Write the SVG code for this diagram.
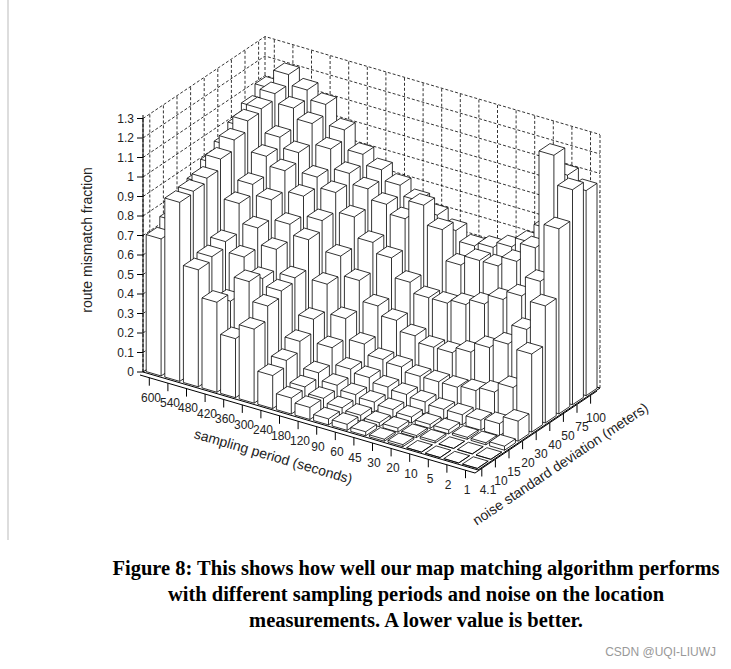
<svg xmlns="http://www.w3.org/2000/svg" width="731" height="669" viewBox="0 0 731 669">
<style>
.g{fill:none;stroke:#000;stroke-width:0.8;stroke-dasharray:3,2}
.ax{fill:none;stroke:#000;stroke-width:1}
.bars path{fill:#fff;stroke:#000;stroke-width:0.8;stroke-linejoin:round}
.t{font-family:"Liberation Sans",Arial,sans-serif;font-size:12px;fill:#222}
.lab{font-family:"Liberation Sans",Arial,sans-serif;font-size:14px;fill:#222}
.cap{font-family:"Liberation Serif","Times New Roman",serif;font-size:20.5px;font-weight:bold;fill:#000;text-anchor:middle}
</style>
<rect width="731" height="669" fill="#fff"/>
<line x1="8" y1="0" x2="8" y2="540" stroke="#bbb" stroke-width="1"/>
<g id="grid">
<path class="g" d="M143,352.5L265,270.5L600,368.5M143,333L265,251L600,349M143,313.5L265,231.5L600,329.5M143,294L265,212L600,310M143,274.5L265,192.5L600,290.5M143,255L265,173L600,271M143,235.5L265,153.5L600,251.5M143,216L265,134L600,232M143,196.5L265,114.5L600,212.5M143,177L265,95L600,193M143,157.5L265,75.5L600,173.5M143,138L265,56L600,154M143,118.5L265,36.5L600,134.5"/>
<path class="g" d="M274.3,292.7v-253.5M292.9,298.2v-253.5M311.5,303.6v-253.5M330.1,309v-253.5M348.7,314.5v-253.5M367.3,319.9v-253.5M385.9,325.4v-253.5M404.5,330.8v-253.5M423.1,336.2v-253.5M441.7,341.7v-253.5M460.3,347.1v-253.5M478.9,352.6v-253.5M497.5,358v-253.5M516.1,363.4v-253.5M534.7,368.9v-253.5M553.3,374.3v-253.5M571.9,379.8v-253.5M590.5,385.2v-253.5M149.8,367.5v-253.5M163.4,358.4v-253.5M177,349.3v-253.5M190.6,340.2v-253.5M204.2,331.1v-253.5M217.8,322v-253.5M231.4,312.9v-253.5M245,303.8v-253.5M258.6,294.7v-253.5M265,290v-253.5M600,388v-253.5M143,372v-253.5"/>
<path class="ax" d="M143,372L265,290L600,388"/>
</g>
<g id="axes">
<path class="ax" d="M143,372L478,470L600,388M140,375L475,473L597,391M143,372V115"/>
<path class="ax" d="M137,372h6M137,352.5h6M137,333h6M137,313.5h6M137,294h6M137,274.5h6M137,255h6M137,235.5h6M137,216h6M137,196.5h6M137,177h6M137,157.5h6M137,138h6M137,118.5h6"/>
<path class="ax" d="M149.3,377.7v8M167.9,383.2v8M186.5,388.6v8M205.1,394v8M223.7,399.5v8M242.3,404.9v8M260.9,410.3v8M279.5,415.8v8M298.1,421.2v8M316.7,426.7v8M335.3,432.1v8M353.9,437.5v8M372.5,443v8M391.1,448.4v8M409.7,453.9v8M428.3,459.3v8M446.9,464.7v8M465.5,470.2v8M481.8,468.5v8M495.4,459.4v8M509,450.3v8M522.6,441.2v8M536.2,432.1v8M549.8,423v8M563.4,413.9v8M577,404.8v8M590.6,395.7v8"/>
<g class="t" text-anchor="end">
<text x="134" y="376">0</text><text x="134" y="356.5">0.1</text><text x="134" y="337">0.2</text><text x="134" y="317.5">0.3</text><text x="134" y="298">0.4</text><text x="134" y="278.5">0.5</text><text x="134" y="259">0.6</text><text x="134" y="239.5">0.7</text><text x="134" y="220">0.8</text><text x="134" y="200.5">0.9</text><text x="134" y="181">1</text><text x="134" y="161.5">1.1</text><text x="134" y="142">1.2</text><text x="134" y="122.5">1.3</text>
</g>
<g class="t" text-anchor="middle">
<text x="151" y="402">600</text><text x="170" y="407">540</text><text x="188" y="412">480</text><text x="207" y="418">420</text><text x="225" y="423">360</text><text x="244" y="429">300</text><text x="263" y="434">240</text><text x="281" y="440">180</text><text x="300" y="445">120</text><text x="318" y="451">90</text><text x="337" y="456">60</text><text x="355" y="462">45</text><text x="374" y="467">30</text><text x="393" y="472">20</text><text x="411" y="478">10</text><text x="430" y="483">5</text><text x="448" y="489">2</text><text x="467" y="494">1</text>
<text x="488" y="494">4.1</text><text x="501" y="485">10</text><text x="514" y="476">15</text><text x="528" y="467">20</text><text x="541" y="458">30</text><text x="555" y="449">40</text><text x="568" y="440">50</text><text x="582" y="431">75</text><text x="596" y="422">100</text>
</g>
<text class="lab" transform="translate(92,240) rotate(-90)" text-anchor="middle">route mismatch fraction</text>
<text class="lab" transform="translate(272,461) rotate(16.3)" text-anchor="middle">sampling period (seconds)</text>
<text class="lab" transform="translate(563,468) rotate(-33.8)" text-anchor="middle">noise standard deviation (meters)</text>
</g>
<g id="bars" class="bars">
<g transform="translate(255,298.8)">
<path d="M0,0l14.9,4.35 10.9,-7.3v-215l-14.9,-4.35 -10.9,7.3zm0,-215l14.9,4.35 10.9,-7.3m-10.9,7.3v215"/>
<path d="M18.6,5.44l14.9,4.35 10.9,-7.3v-234l-14.9,-4.35 -10.9,7.3zm0,-234l14.9,4.35 10.9,-7.3m-10.9,7.3v234"/>
<path d="M37.2,10.88l14.9,4.35 10.9,-7.3v-224l-14.9,-4.35 -10.9,7.3zm0,-224l14.9,4.35 10.9,-7.3m-10.9,7.3v224"/>
<path d="M55.8,16.32l14.9,4.35 10.9,-7.3v-215l-14.9,-4.35 -10.9,7.3zm0,-215l14.9,4.35 10.9,-7.3m-10.9,7.3v215"/>
<path d="M74.4,21.76l14.9,4.35 10.9,-7.3v-195l-14.9,-4.35 -10.9,7.3zm0,-195l14.9,4.35 10.9,-7.3m-10.9,7.3v195"/>
<path d="M93,27.2l14.9,4.35 10.9,-7.3v-176l-14.9,-4.35 -10.9,7.3zm0,-176l14.9,4.35 10.9,-7.3m-10.9,7.3v176"/>
<path d="M111.6,32.64l14.9,4.35 10.9,-7.3v-166l-14.9,-4.35 -10.9,7.3zm0,-166l14.9,4.35 10.9,-7.3m-10.9,7.3v166"/>
<path d="M130.2,38.08l14.9,4.35 10.9,-7.3v-156l-14.9,-4.35 -10.9,7.3zm0,-156l14.9,4.35 10.9,-7.3m-10.9,7.3v156"/>
<path d="M148.8,43.52l14.9,4.35 10.9,-7.3v-146l-14.9,-4.35 -10.9,7.3zm0,-146l14.9,4.35 10.9,-7.3m-10.9,7.3v146"/>
<path d="M167.4,48.96l14.9,4.35 10.9,-7.3v-137l-14.9,-4.35 -10.9,7.3zm0,-137l14.9,4.35 10.9,-7.3m-10.9,7.3v137"/>
<path d="M186,54.4l14.9,4.35 10.9,-7.3v-127l-14.9,-4.35 -10.9,7.3zm0,-127l14.9,4.35 10.9,-7.3m-10.9,7.3v127"/>
<path d="M204.6,59.84l14.9,4.35 10.9,-7.3v-117l-14.9,-4.35 -10.9,7.3zm0,-117l14.9,4.35 10.9,-7.3m-10.9,7.3v117"/>
<path d="M223.2,65.28l14.9,4.35 10.9,-7.3v-121l-14.9,-4.35 -10.9,7.3zm0,-121l14.9,4.35 10.9,-7.3m-10.9,7.3v121"/>
<path d="M241.8,70.72l14.9,4.35 10.9,-7.3v-127l-14.9,-4.35 -10.9,7.3zm0,-127l14.9,4.35 10.9,-7.3m-10.9,7.3v127"/>
<path d="M260.4,76.16l14.9,4.35 10.9,-7.3v-137l-14.9,-4.35 -10.9,7.3zm0,-137l14.9,4.35 10.9,-7.3m-10.9,7.3v137"/>
<path d="M279,81.6l14.9,4.35 10.9,-7.3v-156l-14.9,-4.35 -10.9,7.3zm0,-156l14.9,4.35 10.9,-7.3m-10.9,7.3v156"/>
<path d="M297.6,87.04l14.9,4.35 10.9,-7.3v-215l-14.9,-4.35 -10.9,7.3zm0,-215l14.9,4.35 10.9,-7.3m-10.9,7.3v215"/>
<path d="M316.2,92.48l14.9,4.35 10.9,-7.3v-205l-14.9,-4.35 -10.9,7.3zm0,-205l14.9,4.35 10.9,-7.3m-10.9,7.3v205"/>
</g>
<g transform="translate(241.4,307.9)">
<path d="M0,0l14.9,4.35 10.9,-7.3v-205l-14.9,-4.35 -10.9,7.3zm0,-205l14.9,4.35 10.9,-7.3m-10.9,7.3v205"/>
<path d="M18.6,5.44l14.9,4.35 10.9,-7.3v-224l-14.9,-4.35 -10.9,7.3zm0,-224l14.9,4.35 10.9,-7.3m-10.9,7.3v224"/>
<path d="M37.2,10.88l14.9,4.35 10.9,-7.3v-215l-14.9,-4.35 -10.9,7.3zm0,-215l14.9,4.35 10.9,-7.3m-10.9,7.3v215"/>
<path d="M55.8,16.32l14.9,4.35 10.9,-7.3v-205l-14.9,-4.35 -10.9,7.3zm0,-205l14.9,4.35 10.9,-7.3m-10.9,7.3v205"/>
<path d="M74.4,21.76l14.9,4.35 10.9,-7.3v-185l-14.9,-4.35 -10.9,7.3zm0,-185l14.9,4.35 10.9,-7.3m-10.9,7.3v185"/>
<path d="M93,27.2l14.9,4.35 10.9,-7.3v-166l-14.9,-4.35 -10.9,7.3zm0,-166l14.9,4.35 10.9,-7.3m-10.9,7.3v166"/>
<path d="M111.6,32.64l14.9,4.35 10.9,-7.3v-156l-14.9,-4.35 -10.9,7.3zm0,-156l14.9,4.35 10.9,-7.3m-10.9,7.3v156"/>
<path d="M130.2,38.08l14.9,4.35 10.9,-7.3v-146l-14.9,-4.35 -10.9,7.3zm0,-146l14.9,4.35 10.9,-7.3m-10.9,7.3v146"/>
<path d="M148.8,43.52l14.9,4.35 10.9,-7.3v-137l-14.9,-4.35 -10.9,7.3zm0,-137l14.9,4.35 10.9,-7.3m-10.9,7.3v137"/>
<path d="M167.4,48.96l14.9,4.35 10.9,-7.3v-156l-14.9,-4.35 -10.9,7.3zm0,-156l14.9,4.35 10.9,-7.3m-10.9,7.3v156"/>
<path d="M186,54.4l14.9,4.35 10.9,-7.3v-137l-14.9,-4.35 -10.9,7.3zm0,-137l14.9,4.35 10.9,-7.3m-10.9,7.3v137"/>
<path d="M204.6,59.84l14.9,4.35 10.9,-7.3v-107l-14.9,-4.35 -10.9,7.3zm0,-107l14.9,4.35 10.9,-7.3m-10.9,7.3v107"/>
<path d="M223.2,65.28l14.9,4.35 10.9,-7.3v-117l-14.9,-4.35 -10.9,7.3zm0,-117l14.9,4.35 10.9,-7.3m-10.9,7.3v117"/>
<path d="M241.8,70.72l14.9,4.35 10.9,-7.3v-117l-14.9,-4.35 -10.9,7.3zm0,-117l14.9,4.35 10.9,-7.3m-10.9,7.3v117"/>
<path d="M260.4,76.16l14.9,4.35 10.9,-7.3v-127l-14.9,-4.35 -10.9,7.3zm0,-127l14.9,4.35 10.9,-7.3m-10.9,7.3v127"/>
<path d="M279,81.6l14.9,4.35 10.9,-7.3v-146l-14.9,-4.35 -10.9,7.3zm0,-146l14.9,4.35 10.9,-7.3m-10.9,7.3v146"/>
<path d="M297.6,87.04l14.9,4.35 10.9,-7.3v-244l-14.9,-4.35 -10.9,7.3zm0,-244l14.9,4.35 10.9,-7.3m-10.9,7.3v244"/>
<path d="M316.2,92.48l14.9,4.35 10.9,-7.3v-215l-14.9,-4.35 -10.9,7.3zm0,-215l14.9,4.35 10.9,-7.3m-10.9,7.3v215"/>
</g>
<g transform="translate(227.8,317)">
<path d="M0,0l14.9,4.35 10.9,-7.3v-195l-14.9,-4.35 -10.9,7.3zm0,-195l14.9,4.35 10.9,-7.3m-10.9,7.3v195"/>
<path d="M18.6,5.44l14.9,4.35 10.9,-7.3v-218l-14.9,-4.35 -10.9,7.3zm0,-218l14.9,4.35 10.9,-7.3m-10.9,7.3v218"/>
<path d="M37.2,10.88l14.9,4.35 10.9,-7.3v-195l-14.9,-4.35 -10.9,7.3zm0,-195l14.9,4.35 10.9,-7.3m-10.9,7.3v195"/>
<path d="M55.8,16.32l14.9,4.35 10.9,-7.3v-185l-14.9,-4.35 -10.9,7.3zm0,-185l14.9,4.35 10.9,-7.3m-10.9,7.3v185"/>
<path d="M74.4,21.76l14.9,4.35 10.9,-7.3v-166l-14.9,-4.35 -10.9,7.3zm0,-166l14.9,4.35 10.9,-7.3m-10.9,7.3v166"/>
<path d="M93,27.2l14.9,4.35 10.9,-7.3v-156l-14.9,-4.35 -10.9,7.3zm0,-156l14.9,4.35 10.9,-7.3m-10.9,7.3v156"/>
<path d="M111.6,32.64l14.9,4.35 10.9,-7.3v-137l-14.9,-4.35 -10.9,7.3zm0,-137l14.9,4.35 10.9,-7.3m-10.9,7.3v137"/>
<path d="M130.2,38.08l14.9,4.35 10.9,-7.3v-117l-14.9,-4.35 -10.9,7.3zm0,-117l14.9,4.35 10.9,-7.3m-10.9,7.3v117"/>
<path d="M148.8,43.52l14.9,4.35 10.9,-7.3v-107l-14.9,-4.35 -10.9,7.3zm0,-107l14.9,4.35 10.9,-7.3m-10.9,7.3v107"/>
<path d="M167.4,48.96l14.9,4.35 10.9,-7.3v-88l-14.9,-4.35 -10.9,7.3zm0,-88l14.9,4.35 10.9,-7.3m-10.9,7.3v88"/>
<path d="M186,54.4l14.9,4.35 10.9,-7.3v-78l-14.9,-4.35 -10.9,7.3zm0,-78l14.9,4.35 10.9,-7.3m-10.9,7.3v78"/>
<path d="M204.6,59.84l14.9,4.35 10.9,-7.3v-78l-14.9,-4.35 -10.9,7.3zm0,-78l14.9,4.35 10.9,-7.3m-10.9,7.3v78"/>
<path d="M223.2,65.28l14.9,4.35 10.9,-7.3v-82l-14.9,-4.35 -10.9,7.3zm0,-82l14.9,4.35 10.9,-7.3m-10.9,7.3v82"/>
<path d="M241.8,70.72l14.9,4.35 10.9,-7.3v-88l-14.9,-4.35 -10.9,7.3zm0,-88l14.9,4.35 10.9,-7.3m-10.9,7.3v88"/>
<path d="M260.4,76.16l14.9,4.35 10.9,-7.3v-98l-14.9,-4.35 -10.9,7.3zm0,-98l14.9,4.35 10.9,-7.3m-10.9,7.3v98"/>
<path d="M279,81.6l14.9,4.35 10.9,-7.3v-107l-14.9,-4.35 -10.9,7.3zm0,-107l14.9,4.35 10.9,-7.3m-10.9,7.3v107"/>
<path d="M297.6,87.04l14.9,4.35 10.9,-7.3v-127l-14.9,-4.35 -10.9,7.3zm0,-127l14.9,4.35 10.9,-7.3m-10.9,7.3v127"/>
<path d="M316.2,92.48l14.9,4.35 10.9,-7.3v-185l-14.9,-4.35 -10.9,7.3zm0,-185l14.9,4.35 10.9,-7.3m-10.9,7.3v185"/>
</g>
<g transform="translate(214.2,326.1)">
<path d="M0,0l14.9,4.35 10.9,-7.3v-185l-14.9,-4.35 -10.9,7.3zm0,-185l14.9,4.35 10.9,-7.3m-10.9,7.3v185"/>
<path d="M18.6,5.44l14.9,4.35 10.9,-7.3v-215l-14.9,-4.35 -10.9,7.3zm0,-215l14.9,4.35 10.9,-7.3m-10.9,7.3v215"/>
<path d="M37.2,10.88l14.9,4.35 10.9,-7.3v-185l-14.9,-4.35 -10.9,7.3zm0,-185l14.9,4.35 10.9,-7.3m-10.9,7.3v185"/>
<path d="M55.8,16.32l14.9,4.35 10.9,-7.3v-176l-14.9,-4.35 -10.9,7.3zm0,-176l14.9,4.35 10.9,-7.3m-10.9,7.3v176"/>
<path d="M74.4,21.76l14.9,4.35 10.9,-7.3v-156l-14.9,-4.35 -10.9,7.3zm0,-156l14.9,4.35 10.9,-7.3m-10.9,7.3v156"/>
<path d="M93,27.2l14.9,4.35 10.9,-7.3v-137l-14.9,-4.35 -10.9,7.3zm0,-137l14.9,4.35 10.9,-7.3m-10.9,7.3v137"/>
<path d="M111.6,32.64l14.9,4.35 10.9,-7.3v-107l-14.9,-4.35 -10.9,7.3zm0,-107l14.9,4.35 10.9,-7.3m-10.9,7.3v107"/>
<path d="M130.2,38.08l14.9,4.35 10.9,-7.3v-88l-14.9,-4.35 -10.9,7.3zm0,-88l14.9,4.35 10.9,-7.3m-10.9,7.3v88"/>
<path d="M148.8,43.52l14.9,4.35 10.9,-7.3v-68l-14.9,-4.35 -10.9,7.3zm0,-68l14.9,4.35 10.9,-7.3m-10.9,7.3v68"/>
<path d="M167.4,48.96l14.9,4.35 10.9,-7.3v-59l-14.9,-4.35 -10.9,7.3zm0,-59l14.9,4.35 10.9,-7.3m-10.9,7.3v59"/>
<path d="M186,54.4l14.9,4.35 10.9,-7.3v-49l-14.9,-4.35 -10.9,7.3zm0,-49l14.9,4.35 10.9,-7.3m-10.9,7.3v49"/>
<path d="M204.6,59.84l14.9,4.35 10.9,-7.3v-43l-14.9,-4.35 -10.9,7.3zm0,-43l14.9,4.35 10.9,-7.3m-10.9,7.3v43"/>
<path d="M223.2,65.28l14.9,4.35 10.9,-7.3v-43l-14.9,-4.35 -10.9,7.3zm0,-43l14.9,4.35 10.9,-7.3m-10.9,7.3v43"/>
<path d="M241.8,70.72l14.9,4.35 10.9,-7.3v-49l-14.9,-4.35 -10.9,7.3zm0,-49l14.9,4.35 10.9,-7.3m-10.9,7.3v49"/>
<path d="M260.4,76.16l14.9,4.35 10.9,-7.3v-59l-14.9,-4.35 -10.9,7.3zm0,-59l14.9,4.35 10.9,-7.3m-10.9,7.3v59"/>
<path d="M279,81.6l14.9,4.35 10.9,-7.3v-68l-14.9,-4.35 -10.9,7.3zm0,-68l14.9,4.35 10.9,-7.3m-10.9,7.3v68"/>
<path d="M297.6,87.04l14.9,4.35 10.9,-7.3v-88l-14.9,-4.35 -10.9,7.3zm0,-88l14.9,4.35 10.9,-7.3m-10.9,7.3v88"/>
<path d="M316.2,92.48l14.9,4.35 10.9,-7.3v-117l-14.9,-4.35 -10.9,7.3zm0,-117l14.9,4.35 10.9,-7.3m-10.9,7.3v117"/>
</g>
<g transform="translate(200.6,335.2)">
<path d="M0,0l14.9,4.35 10.9,-7.3v-176l-14.9,-4.35 -10.9,7.3zm0,-176l14.9,4.35 10.9,-7.3m-10.9,7.3v176"/>
<path d="M18.6,5.44l14.9,4.35 10.9,-7.3v-205l-14.9,-4.35 -10.9,7.3zm0,-205l14.9,4.35 10.9,-7.3m-10.9,7.3v205"/>
<path d="M37.2,10.88l14.9,4.35 10.9,-7.3v-166l-14.9,-4.35 -10.9,7.3zm0,-166l14.9,4.35 10.9,-7.3m-10.9,7.3v166"/>
<path d="M55.8,16.32l14.9,4.35 10.9,-7.3v-156l-14.9,-4.35 -10.9,7.3zm0,-156l14.9,4.35 10.9,-7.3m-10.9,7.3v156"/>
<path d="M74.4,21.76l14.9,4.35 10.9,-7.3v-137l-14.9,-4.35 -10.9,7.3zm0,-137l14.9,4.35 10.9,-7.3m-10.9,7.3v137"/>
<path d="M93,27.2l14.9,4.35 10.9,-7.3v-127l-14.9,-4.35 -10.9,7.3zm0,-127l14.9,4.35 10.9,-7.3m-10.9,7.3v127"/>
<path d="M111.6,32.64l14.9,4.35 10.9,-7.3v-88l-14.9,-4.35 -10.9,7.3zm0,-88l14.9,4.35 10.9,-7.3m-10.9,7.3v88"/>
<path d="M130.2,38.08l14.9,4.35 10.9,-7.3v-59l-14.9,-4.35 -10.9,7.3zm0,-59l14.9,4.35 10.9,-7.3m-10.9,7.3v59"/>
<path d="M148.8,43.52l14.9,4.35 10.9,-7.3v-39l-14.9,-4.35 -10.9,7.3zm0,-39l14.9,4.35 10.9,-7.3m-10.9,7.3v39"/>
<path d="M167.4,48.96l14.9,4.35 10.9,-7.3v-29l-14.9,-4.35 -10.9,7.3zm0,-29l14.9,4.35 10.9,-7.3m-10.9,7.3v29"/>
<path d="M186,54.4l14.9,4.35 10.9,-7.3v-27l-14.9,-4.35 -10.9,7.3zm0,-27l14.9,4.35 10.9,-7.3m-10.9,7.3v27"/>
<path d="M204.6,59.84l14.9,4.35 10.9,-7.3v-23l-14.9,-4.35 -10.9,7.3zm0,-23l14.9,4.35 10.9,-7.3m-10.9,7.3v23"/>
<path d="M223.2,65.28l14.9,4.35 10.9,-7.3v-23l-14.9,-4.35 -10.9,7.3zm0,-23l14.9,4.35 10.9,-7.3m-10.9,7.3v23"/>
<path d="M241.8,70.72l14.9,4.35 10.9,-7.3v-23l-14.9,-4.35 -10.9,7.3zm0,-23l14.9,4.35 10.9,-7.3m-10.9,7.3v23"/>
<path d="M260.4,76.16l14.9,4.35 10.9,-7.3v-25l-14.9,-4.35 -10.9,7.3zm0,-25l14.9,4.35 10.9,-7.3m-10.9,7.3v25"/>
<path d="M279,81.6l14.9,4.35 10.9,-7.3v-29l-14.9,-4.35 -10.9,7.3zm0,-29l14.9,4.35 10.9,-7.3m-10.9,7.3v29"/>
<path d="M297.6,87.04l14.9,4.35 10.9,-7.3v-39l-14.9,-4.35 -10.9,7.3zm0,-39l14.9,4.35 10.9,-7.3m-10.9,7.3v39"/>
<path d="M316.2,92.48l14.9,4.35 10.9,-7.3v-78l-14.9,-4.35 -10.9,7.3zm0,-78l14.9,4.35 10.9,-7.3m-10.9,7.3v78"/>
</g>
<g transform="translate(187,344.3)">
<path d="M0,0l14.9,4.35 10.9,-7.3v-166l-14.9,-4.35 -10.9,7.3zm0,-166l14.9,4.35 10.9,-7.3m-10.9,7.3v166"/>
<path d="M18.6,5.44l14.9,4.35 10.9,-7.3v-195l-14.9,-4.35 -10.9,7.3zm0,-195l14.9,4.35 10.9,-7.3m-10.9,7.3v195"/>
<path d="M37.2,10.88l14.9,4.35 10.9,-7.3v-156l-14.9,-4.35 -10.9,7.3zm0,-156l14.9,4.35 10.9,-7.3m-10.9,7.3v156"/>
<path d="M55.8,16.32l14.9,4.35 10.9,-7.3v-137l-14.9,-4.35 -10.9,7.3zm0,-137l14.9,4.35 10.9,-7.3m-10.9,7.3v137"/>
<path d="M74.4,21.76l14.9,4.35 10.9,-7.3v-121l-14.9,-4.35 -10.9,7.3zm0,-121l14.9,4.35 10.9,-7.3m-10.9,7.3v121"/>
<path d="M93,27.2l14.9,4.35 10.9,-7.3v-98l-14.9,-4.35 -10.9,7.3zm0,-98l14.9,4.35 10.9,-7.3m-10.9,7.3v98"/>
<path d="M111.6,32.64l14.9,4.35 10.9,-7.3v-62l-14.9,-4.35 -10.9,7.3zm0,-62l14.9,4.35 10.9,-7.3m-10.9,7.3v62"/>
<path d="M130.2,38.08l14.9,4.35 10.9,-7.3v-39l-14.9,-4.35 -10.9,7.3zm0,-39l14.9,4.35 10.9,-7.3m-10.9,7.3v39"/>
<path d="M148.8,43.52l14.9,4.35 10.9,-7.3v-23l-14.9,-4.35 -10.9,7.3zm0,-23l14.9,4.35 10.9,-7.3m-10.9,7.3v23"/>
<path d="M167.4,48.96l14.9,4.35 10.9,-7.3v-20l-14.9,-4.35 -10.9,7.3zm0,-20l14.9,4.35 10.9,-7.3m-10.9,7.3v20"/>
<path d="M186,54.4l14.9,4.35 10.9,-7.3v-16l-14.9,-4.35 -10.9,7.3zm0,-16l14.9,4.35 10.9,-7.3m-10.9,7.3v16"/>
<path d="M204.6,59.84l14.9,4.35 10.9,-7.3v-14l-14.9,-4.35 -10.9,7.3zm0,-14l14.9,4.35 10.9,-7.3m-10.9,7.3v14"/>
<path d="M223.2,65.28l14.9,4.35 10.9,-7.3v-12l-14.9,-4.35 -10.9,7.3zm0,-12l14.9,4.35 10.9,-7.3m-10.9,7.3v12"/>
<path d="M241.8,70.72l14.9,4.35 10.9,-7.3v-10l-14.9,-4.35 -10.9,7.3zm0,-10l14.9,4.35 10.9,-7.3m-10.9,7.3v10"/>
<path d="M260.4,76.16l14.9,4.35 10.9,-7.3v-10l-14.9,-4.35 -10.9,7.3zm0,-10l14.9,4.35 10.9,-7.3m-10.9,7.3v10"/>
<path d="M279,81.6l14.9,4.35 10.9,-7.3v-10l-14.9,-4.35 -10.9,7.3zm0,-10l14.9,4.35 10.9,-7.3m-10.9,7.3v10"/>
<path d="M297.6,87.04l14.9,4.35 10.9,-7.3v-12l-14.9,-4.35 -10.9,7.3zm0,-12l14.9,4.35 10.9,-7.3m-10.9,7.3v12"/>
<path d="M316.2,92.48l14.9,4.35 10.9,-7.3v-20l-14.9,-4.35 -10.9,7.3zm0,-20l14.9,4.35 10.9,-7.3m-10.9,7.3v20"/>
</g>
<g transform="translate(173.4,353.4)">
<path d="M0,0l14.9,4.35 10.9,-7.3v-156l-14.9,-4.35 -10.9,7.3zm0,-156l14.9,4.35 10.9,-7.3m-10.9,7.3v156"/>
<path d="M18.6,5.44l14.9,4.35 10.9,-7.3v-185l-14.9,-4.35 -10.9,7.3zm0,-185l14.9,4.35 10.9,-7.3m-10.9,7.3v185"/>
<path d="M37.2,10.88l14.9,4.35 10.9,-7.3v-127l-14.9,-4.35 -10.9,7.3zm0,-127l14.9,4.35 10.9,-7.3m-10.9,7.3v127"/>
<path d="M55.8,16.32l14.9,4.35 10.9,-7.3v-117l-14.9,-4.35 -10.9,7.3zm0,-117l14.9,4.35 10.9,-7.3m-10.9,7.3v117"/>
<path d="M74.4,21.76l14.9,4.35 10.9,-7.3v-101l-14.9,-4.35 -10.9,7.3zm0,-101l14.9,4.35 10.9,-7.3m-10.9,7.3v101"/>
<path d="M93,27.2l14.9,4.35 10.9,-7.3v-94l-14.9,-4.35 -10.9,7.3zm0,-94l14.9,4.35 10.9,-7.3m-10.9,7.3v94"/>
<path d="M111.6,32.64l14.9,4.35 10.9,-7.3v-49l-14.9,-4.35 -10.9,7.3zm0,-49l14.9,4.35 10.9,-7.3m-10.9,7.3v49"/>
<path d="M130.2,38.08l14.9,4.35 10.9,-7.3v-23l-14.9,-4.35 -10.9,7.3zm0,-23l14.9,4.35 10.9,-7.3m-10.9,7.3v23"/>
<path d="M148.8,43.52l14.9,4.35 10.9,-7.3v-16l-14.9,-4.35 -10.9,7.3zm0,-16l14.9,4.35 10.9,-7.3m-10.9,7.3v16"/>
<path d="M167.4,48.96l14.9,4.35 10.9,-7.3v-12l-14.9,-4.35 -10.9,7.3zm0,-12l14.9,4.35 10.9,-7.3m-10.9,7.3v12"/>
<path d="M186,54.4l14.9,4.35 10.9,-7.3v-10l-14.9,-4.35 -10.9,7.3zm0,-10l14.9,4.35 10.9,-7.3m-10.9,7.3v10"/>
<path d="M204.6,59.84l14.9,4.35 10.9,-7.3v-8l-14.9,-4.35 -10.9,7.3zm0,-8l14.9,4.35 10.9,-7.3m-10.9,7.3v8"/>
<path d="M223.2,65.28l14.9,4.35 10.9,-7.3v-6l-14.9,-4.35 -10.9,7.3zm0,-6l14.9,4.35 10.9,-7.3m-10.9,7.3v6"/>
<path d="M241.8,70.72l14.9,4.35 10.9,-7.3v-4l-14.9,-4.35 -10.9,7.3zm0,-4l14.9,4.35 10.9,-7.3m-10.9,7.3v4"/>
<path d="M260.4,76.16l14.9,4.35 10.9,-7.3v-4l-14.9,-4.35 -10.9,7.3zm0,-4l14.9,4.35 10.9,-7.3m-10.9,7.3v4"/>
<path d="M279,81.6l14.9,4.35 10.9,-7.3v-2l-14.9,-4.35 -10.9,7.3zm0,-2l14.9,4.35 10.9,-7.3m-10.9,7.3v2"/>
<path d="M297.6,87.04l14.9,4.35 10.9,-7.3v-2l-14.9,-4.35 -10.9,7.3zm0,-2l14.9,4.35 10.9,-7.3m-10.9,7.3v2"/>
<path d="M316.2,92.48l14.9,4.35 10.9,-7.3v-4l-14.9,-4.35 -10.9,7.3zm0,-4l14.9,4.35 10.9,-7.3m-10.9,7.3v4"/>
</g>
<g transform="translate(159.8,362.5)">
<path d="M0,0l14.9,4.35 10.9,-7.3v-146l-14.9,-4.35 -10.9,7.3zm0,-146l14.9,4.35 10.9,-7.3m-10.9,7.3v146"/>
<path d="M18.6,5.44l14.9,4.35 10.9,-7.3v-181l-14.9,-4.35 -10.9,7.3zm0,-181l14.9,4.35 10.9,-7.3m-10.9,7.3v181"/>
<path d="M37.2,10.88l14.9,4.35 10.9,-7.3v-121l-14.9,-4.35 -10.9,7.3zm0,-121l14.9,4.35 10.9,-7.3m-10.9,7.3v121"/>
<path d="M55.8,16.32l14.9,4.35 10.9,-7.3v-82l-14.9,-4.35 -10.9,7.3zm0,-82l14.9,4.35 10.9,-7.3m-10.9,7.3v82"/>
<path d="M74.4,21.76l14.9,4.35 10.9,-7.3v-107l-14.9,-4.35 -10.9,7.3zm0,-107l14.9,4.35 10.9,-7.3m-10.9,7.3v107"/>
<path d="M93,27.2l14.9,4.35 10.9,-7.3v-88l-14.9,-4.35 -10.9,7.3zm0,-88l14.9,4.35 10.9,-7.3m-10.9,7.3v88"/>
<path d="M111.6,32.64l14.9,4.35 10.9,-7.3v-39l-14.9,-4.35 -10.9,7.3zm0,-39l14.9,4.35 10.9,-7.3m-10.9,7.3v39"/>
<path d="M130.2,38.08l14.9,4.35 10.9,-7.3v-18l-14.9,-4.35 -10.9,7.3zm0,-18l14.9,4.35 10.9,-7.3m-10.9,7.3v18"/>
<path d="M148.8,43.52l14.9,4.35 10.9,-7.3v-12l-14.9,-4.35 -10.9,7.3zm0,-12l14.9,4.35 10.9,-7.3m-10.9,7.3v12"/>
<path d="M167.4,48.96l14.9,4.35 10.9,-7.3v-8l-14.9,-4.35 -10.9,7.3zm0,-8l14.9,4.35 10.9,-7.3m-10.9,7.3v8"/>
<path d="M186,54.4l14.9,4.35 10.9,-7.3v-6l-14.9,-4.35 -10.9,7.3zm0,-6l14.9,4.35 10.9,-7.3m-10.9,7.3v6"/>
<path d="M204.6,59.84l14.9,4.35 10.9,-7.3v-4l-14.9,-4.35 -10.9,7.3zm0,-4l14.9,4.35 10.9,-7.3m-10.9,7.3v4"/>
<path d="M223.2,65.28l14.9,4.35 10.9,-7.3v-4l-14.9,-4.35 -10.9,7.3zm0,-4l14.9,4.35 10.9,-7.3m-10.9,7.3v4"/>
<path d="M241.8,70.72l14.9,4.35 10.9,-7.3v-2l-14.9,-4.35 -10.9,7.3zm0,-2l14.9,4.35 10.9,-7.3m-10.9,7.3v2"/>
<path d="M260.4,76.16l14.9,4.35 10.9,-7.3v-2l-14.9,-4.35 -10.9,7.3zm0,-2l14.9,4.35 10.9,-7.3m-10.9,7.3v2"/>
<path d="M279,81.6l14.9,4.35 10.9,-7.3v-0l-14.9,-4.35 -10.9,7.3zm0,-0l14.9,4.35 10.9,-7.3m-10.9,7.3v0"/>
<path d="M297.6,87.04l14.9,4.35 10.9,-7.3v-0l-14.9,-4.35 -10.9,7.3zm0,-0l14.9,4.35 10.9,-7.3m-10.9,7.3v0"/>
<path d="M316.2,92.48l14.9,4.35 10.9,-7.3v-0l-14.9,-4.35 -10.9,7.3zm0,-0l14.9,4.35 10.9,-7.3m-10.9,7.3v0"/>
</g>
<g transform="translate(146.2,371.6)">
<path d="M0,0l14.9,4.35 10.9,-7.3v-137l-14.9,-4.35 -10.9,7.3zm0,-137l14.9,4.35 10.9,-7.3m-10.9,7.3v137"/>
<path d="M18.6,5.44l14.9,4.35 10.9,-7.3v-179l-14.9,-4.35 -10.9,7.3zm0,-179l14.9,4.35 10.9,-7.3m-10.9,7.3v179"/>
<path d="M37.2,10.88l14.9,4.35 10.9,-7.3v-117l-14.9,-4.35 -10.9,7.3zm0,-117l14.9,4.35 10.9,-7.3m-10.9,7.3v117"/>
<path d="M55.8,16.32l14.9,4.35 10.9,-7.3v-90l-14.9,-4.35 -10.9,7.3zm0,-90l14.9,4.35 10.9,-7.3m-10.9,7.3v90"/>
<path d="M74.4,21.76l14.9,4.35 10.9,-7.3v-59l-14.9,-4.35 -10.9,7.3zm0,-59l14.9,4.35 10.9,-7.3m-10.9,7.3v59"/>
<path d="M93,27.2l14.9,4.35 10.9,-7.3v-74l-14.9,-4.35 -10.9,7.3zm0,-74l14.9,4.35 10.9,-7.3m-10.9,7.3v74"/>
<path d="M111.6,32.64l14.9,4.35 10.9,-7.3v-33l-14.9,-4.35 -10.9,7.3zm0,-33l14.9,4.35 10.9,-7.3m-10.9,7.3v33"/>
<path d="M130.2,38.08l14.9,4.35 10.9,-7.3v-16l-14.9,-4.35 -10.9,7.3zm0,-16l14.9,4.35 10.9,-7.3m-10.9,7.3v16"/>
<path d="M148.8,43.52l14.9,4.35 10.9,-7.3v-12l-14.9,-4.35 -10.9,7.3zm0,-12l14.9,4.35 10.9,-7.3m-10.9,7.3v12"/>
<path d="M167.4,48.96l14.9,4.35 10.9,-7.3v-6l-14.9,-4.35 -10.9,7.3zm0,-6l14.9,4.35 10.9,-7.3m-10.9,7.3v6"/>
<path d="M186,54.4l14.9,4.35 10.9,-7.3v-6l-14.9,-4.35 -10.9,7.3zm0,-6l14.9,4.35 10.9,-7.3m-10.9,7.3v6"/>
<path d="M204.6,59.84l14.9,4.35 10.9,-7.3v-4l-14.9,-4.35 -10.9,7.3zm0,-4l14.9,4.35 10.9,-7.3m-10.9,7.3v4"/>
<path d="M223.2,65.28l14.9,4.35 10.9,-7.3v-2l-14.9,-4.35 -10.9,7.3zm0,-2l14.9,4.35 10.9,-7.3m-10.9,7.3v2"/>
<path d="M241.8,70.72l14.9,4.35 10.9,-7.3v-2l-14.9,-4.35 -10.9,7.3zm0,-2l14.9,4.35 10.9,-7.3m-10.9,7.3v2"/>
<path d="M260.4,76.16l14.9,4.35 10.9,-7.3v-0l-14.9,-4.35 -10.9,7.3zm0,-0l14.9,4.35 10.9,-7.3m-10.9,7.3v0"/>
<path d="M279,81.6l14.9,4.35 10.9,-7.3v-0l-14.9,-4.35 -10.9,7.3zm0,-0l14.9,4.35 10.9,-7.3m-10.9,7.3v0"/>
<path d="M297.6,87.04l14.9,4.35 10.9,-7.3v-0l-14.9,-4.35 -10.9,7.3zm0,-0l14.9,4.35 10.9,-7.3m-10.9,7.3v0"/>
<path d="M316.2,92.48l14.9,4.35 10.9,-7.3v-0l-14.9,-4.35 -10.9,7.3zm0,-0l14.9,4.35 10.9,-7.3m-10.9,7.3v0"/>
</g>
</g>
<g id="caption">
<text class="cap" x="416" y="575">Figure 8: This shows how well our map matching algorithm performs</text>
<text class="cap" x="416" y="601">with different sampling periods and noise on the location</text>
<text class="cap" x="416" y="627">measurements. A lower value is better.</text>
</g>
<text x="716" y="656" text-anchor="end" font-family="'Liberation Sans',Arial,sans-serif" font-size="12" fill="#999">CSDN @UQI-LIUWJ</text>
</svg>
